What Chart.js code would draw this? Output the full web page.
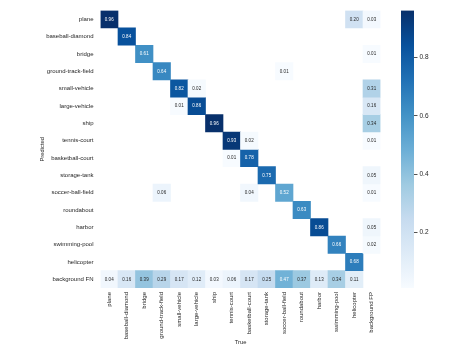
<!DOCTYPE html>
<html>
<head>
<meta charset="utf-8">
<script src="https://cdn.jsdelivr.net/npm/chart.js@4.4.1/dist/chart.umd.min.js"></script>
<style>
html,body{margin:0;padding:0;background:#fff;}
#wrap{width:474px;height:355px;}
</style>
</head>
<body>
<div id="wrap"><canvas id="c" width="474" height="355"></canvas></div>
<script>
const trueLabels = ['plane','baseball-diamond','bridge','ground-track-field','small-vehicle','large-vehicle','ship','tennis-court','basketball-court','storage-tank','soccer-ball-field','roundabout','harbor','swimming-pool','helicopter','background FP'];
const predLabels = ['plane','baseball-diamond','bridge','ground-track-field','small-vehicle','large-vehicle','ship','tennis-court','basketball-court','storage-tank','soccer-ball-field','roundabout','harbor','swimming-pool','helicopter','background FN'];
const _ = null;
const rowPlane   = [0.96,_,_,_,_,_,_,_,_,_,_,_,_,_,0.20,0.03];
const rowBD      = [_,0.84,_,_,_,_,_,_,_,_,_,_,_,_,_,_];
const rowBridge  = [_,_,0.61,_,_,_,_,_,_,_,_,_,_,_,_,0.01];
const rowGTF     = [_,_,_,0.64,_,_,_,_,_,_,0.01,_,_,_,_,_];
const rowSV      = [_,_,_,_,0.82,0.02,_,_,_,_,_,_,_,_,_,0.31];
const rowLV      = [_,_,_,_,0.01,0.86,_,_,_,_,_,_,_,_,_,0.16];
const rowShip    = [_,_,_,_,_,_,0.96,_,_,_,_,_,_,_,_,0.34];
const rowTC      = [_,_,_,_,_,_,_,0.93,0.02,_,_,_,_,_,_,0.01];
const rowBC      = [_,_,_,_,_,_,_,0.01,0.78,_,_,_,_,_,_,_];
const rowST      = [_,_,_,_,_,_,_,_,_,0.75,_,_,_,_,_,0.05];
const rowSBF     = [_,_,_,0.06,_,_,_,_,0.04,_,0.52,_,_,_,_,0.01];
const rowRA      = [_,_,_,_,_,_,_,_,_,_,_,0.63,_,_,_,_];
const rowHarbor  = [_,_,_,_,_,_,_,_,_,_,_,_,0.86,_,_,0.05];
const rowSP      = [_,_,_,_,_,_,_,_,_,_,_,_,_,0.66,_,0.02];
const rowHeli    = [_,_,_,_,_,_,_,_,_,_,_,_,_,_,0.68,_];
const rowFN      = [0.04,0.16,0.39,0.29,0.17,0.12,0.03,0.06,0.17,0.25,0.47,0.37,0.13,0.34,0.11,_];
const matrix = [rowPlane,rowBD,rowBridge,rowGTF,rowSV,rowLV,rowShip,rowTC,rowBC,rowST,rowSBF,rowRA,rowHarbor,rowSP,rowHeli,rowFN];
const cbTicks = [0.2,0.4,0.6,0.8];

const allVals = matrix.flat().filter(v => v !== null);
const vMin = Math.min(...allVals), vMax = Math.max(...allVals);

// matplotlib "Blues"
const blues = [[247,251,255],[222,235,247],[198,219,239],[158,202,225],[107,174,214],[66,146,198],[33,113,181],[8,81,156],[8,48,107]];
function cmap(t){
  t = Math.max(0, Math.min(1, t));
  const p = t*(blues.length-1), i = Math.min(Math.floor(p), blues.length-2), f = p-i;
  const a = blues[i], b = blues[i+1];
  return [0,1,2].map(k => Math.round(a[k]+(b[k]-a[k])*f));
}
function colorOf(v){ const c = cmap((v-vMin)/(vMax-vMin)); return `rgb(${c[0]},${c[1]},${c[2]})`; }
function lum(v){
  const c = cmap((v-vMin)/(vMax-vMin)).map(x => { x/=255; return x <= 0.03928 ? x/12.92 : Math.pow((x+0.055)/1.055, 2.4); });
  return 0.2126*c[0]+0.7152*c[1]+0.0722*c[2];
}

const FONT = '"Liberation Sans", Arial, sans-serif';
const TXT = '#262626';

const datasets = matrix.map((row, r) => ({
  label: predLabels[r],
  data: row.map(v => v === null ? null : [r-0.5, r+0.5]),
  backgroundColor: row.map(v => v === null ? 'rgba(0,0,0,0)' : colorOf(v)),
  borderWidth: 0,
  grouped: false,
  barPercentage: 1,
  categoryPercentage: 1,
  yAxisID: 'y'
}));

const annot = {
  id: 'annot',
  afterDatasetsDraw(chart){
    const ctx = chart.ctx;
    ctx.save();
    ctx.font = `4.5px ${FONT}`;
    ctx.textAlign = 'center';
    ctx.textBaseline = 'middle';
    matrix.forEach((row, r) => {
      const meta = chart.getDatasetMeta(r);
      row.forEach((v, c) => {
        if (v === null) return;
        const el = meta.data[c];
        const pos = el.getCenterPoint();
        ctx.fillStyle = lum(v) > 0.408 ? TXT : '#ffffff';
        ctx.fillText(v.toFixed(2), pos.x, pos.y);
      });
    });
    ctx.restore();
  }
};

const colorbar = {
  id: 'colorbar',
  afterDraw(chart){
    const gap = chart.scales.gap, cb = chart.scales.cb, ctx = chart.ctx;
    const x1 = gap.right, x0 = x1 - 13;
    const g = ctx.createLinearGradient(0, cb.getPixelForValue(vMin), 0, cb.getPixelForValue(vMax));
    blues.forEach((c, i) => g.addColorStop(i/(blues.length-1), `rgb(${c[0]},${c[1]},${c[2]})`));
    ctx.save();
    ctx.fillStyle = g;
    ctx.fillRect(x0, cb.getPixelForValue(vMax), x1-x0, cb.getPixelForValue(vMin)-cb.getPixelForValue(vMax));
    ctx.restore();
  }
};

new Chart(document.getElementById('c'), {
  type: 'bar',
  data: { labels: trueLabels, datasets },
  plugins: [annot, colorbar],
  options: {
    responsive: false,
    animation: false,
    events: [],
    layout: { padding: { left: 0, top: 8, right: 20, bottom: 7 } },
    plugins: { legend: { display: false }, tooltip: { enabled: false } },
    scales: {
      x: {
        type: 'category',
        offset: true,
        grid: { display: false, drawTicks: false },
        border: { display: false },
        ticks: { autoSkip: false, maxRotation: 90, minRotation: 90, padding: 4, color: TXT, font: { family: FONT, size: 6 } },
        title: { display: true, text: 'True', color: TXT, font: { family: FONT, size: 5.8 }, padding: { top: 0, bottom: 1.7 } },
        afterFit(s){ s.height = 60; }
      },
      y: {
        type: 'linear',
        reverse: true,
        min: -0.5, max: 15.5,
        grid: { display: false, drawTicks: false },
        border: { display: false },
        afterBuildTicks(s){ s.ticks = predLabels.map((_, i) => ({ value: i })); },
        ticks: { autoSkip: false, padding: 7, color: TXT, font: { family: FONT, size: 6 }, callback: v => predLabels[v] },
        title: { display: true, text: 'Predicted', color: TXT, font: { family: FONT, size: 5.8 }, padding: { top: 38.5, bottom: 0 } },
        afterFit(s){ s.width = 100.5; }
      },
      gap: {
        type: 'linear', position: 'right', min: 0, max: 1,
        grid: { display: false, drawTicks: false },
        border: { display: false },
        ticks: { display: false },
        afterFit(s){ s.width = 33.5; }
      },
      cb: {
        type: 'linear', position: 'right', min: vMin, max: vMax,
        grid: { display: true, drawOnChartArea: false, drawTicks: true, tickLength: 3.5, color: TXT, lineWidth: 0.8 },
        border: { display: false },
        afterBuildTicks(s){ s.ticks = cbTicks.map(v => ({ value: v })); },
        ticks: { padding: 2, color: TXT, font: { family: FONT, size: 6.5 }, callback: v => v.toFixed(1) },
        afterFit(s){ s.width = 40; }
      }
    }
  }
});
</script>
</body>
</html>
